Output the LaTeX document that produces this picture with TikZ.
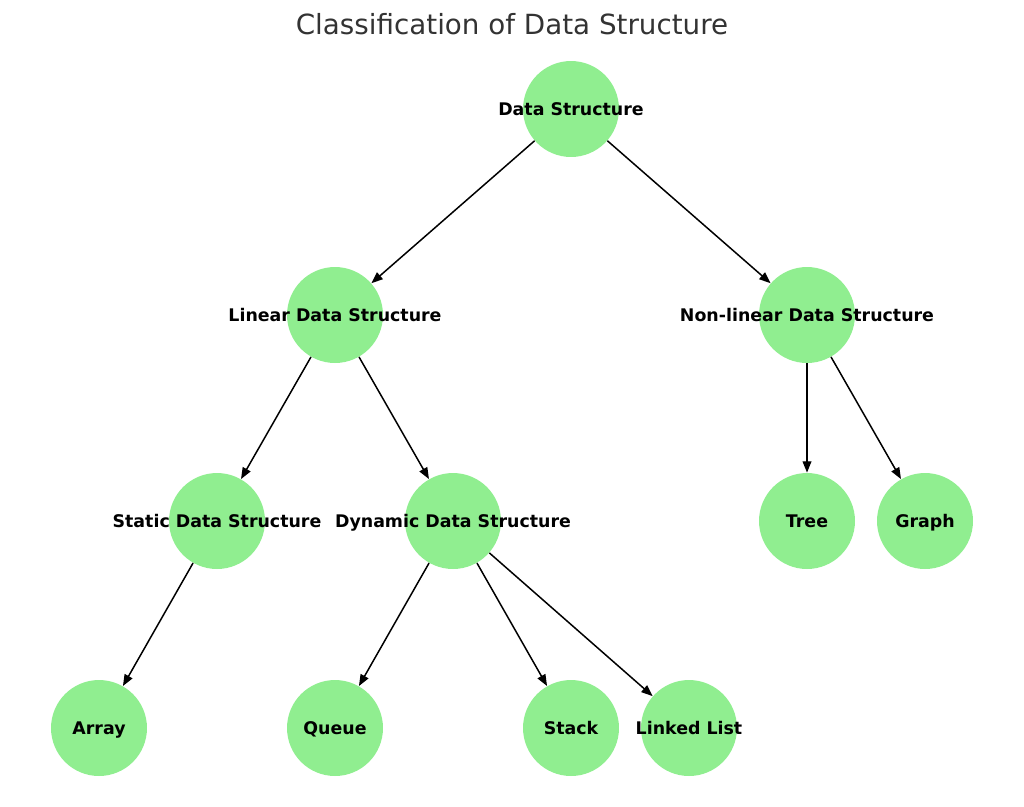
\documentclass[tikz,border=0pt]{standalone}
\usepackage{fontspec}
\setmainfont{DejaVu Sans}
\usetikzlibrary{arrows.meta}
\definecolor{dsgreen}{HTML}{90EE90}
\definecolor{titlegray}{HTML}{333333}
\begin{document}
\begin{tikzpicture}[x=0.02cm,y=-0.02cm,
    ds/.style={circle,fill=dsgreen,minimum size=1.92cm,inner sep=0pt},
    lbl/.style={font=\fontsize{9.9}{12}\selectfont\bfseries,text height=0.73em,text depth=0pt},
    link/.style={line width=0.85pt,-{Triangle[length=6.5pt,width=5pt]}}]
    \useasboundingbox (0,0) rectangle (1024,806);

    \node[font=\fontsize{15.8}{19}\selectfont,text=titlegray] (title) at (512,24) {Classification of Data Structure};

    \node[ds,label={[lbl]center:Data Structure}] (data) at (571,109) {};
    \node[ds,label={[lbl]center:Linear Data Structure}] (linear) at (335,315) {};
    \node[ds,label={[lbl]center:Non-linear Data Structure}] (nonlinear) at (807,315) {};
    \node[ds,label={[lbl]center:Static Data Structure}] (static) at (217,521) {};
    \node[ds,label={[lbl]center:Dynamic Data Structure}] (dynamic) at (453,521) {};
    \node[ds,label={[lbl]center:Tree}] (tree) at (807,521) {};
    \node[ds,label={[lbl]center:Graph}] (graph) at (925,521) {};
    \node[ds,label={[lbl]center:Array}] (array) at (99,728) {};
    \node[ds,label={[lbl]center:Queue}] (queue) at (335,728) {};
    \node[ds,label={[lbl]center:Stack}] (stack) at (571,728) {};
    \node[ds,label={[lbl]center:Linked List}] (linked) at (689,728) {};

    \draw[link] (data) -- (linear);
    \draw[link] (data) -- (nonlinear);
    \draw[link] (linear) -- (static);
    \draw[link] (linear) -- (dynamic);
    \draw[link] (nonlinear) -- (tree);
    \draw[link] (nonlinear) -- (graph);
    \draw[link] (static) -- (array);
    \draw[link] (dynamic) -- (queue);
    \draw[link] (dynamic) -- (stack);
    \draw[link] (dynamic) -- (linked);
\end{tikzpicture}
\end{document}
